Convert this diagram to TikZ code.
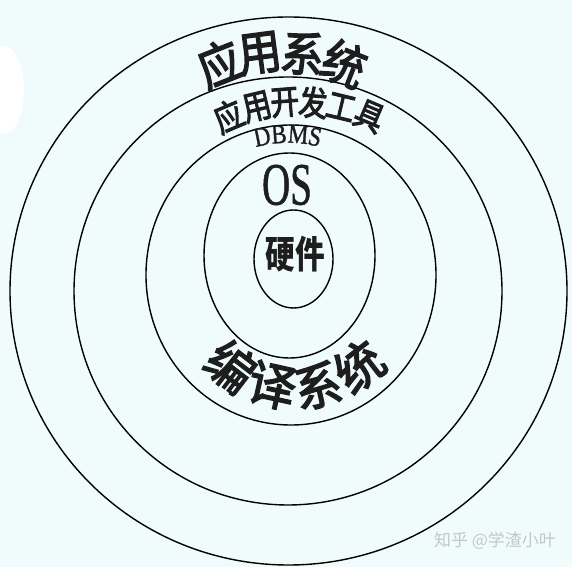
\documentclass[tikz,border=0pt]{standalone}
\usepackage{fontspec}
\newfontfamily\cjk{Noto Sans CJK SC}[FakeBold=3]
\newfontfamily\cjkplain{Noto Sans CJK SC}
\newfontfamily\tms{Liberation Serif}[FakeBold=1.2]
\usetikzlibrary{calc}
\definecolor{bgcyan}{RGB}{240,252,252}
\definecolor{inkgray}{RGB}{30,30,30}
\newcommand\cjksize[1]{\cjk\fontsize{#1}{#1}\selectfont}
\newcommand\tmssize[1]{\tms\fontsize{#1}{#1}\selectfont}

\begin{document}
\begin{tikzpicture}[x=1pt, y=1pt]
    % Define display style
    \tikzstyle{ring}=[draw=black, line width=1.4pt]
    \tikzstyle{cjkchar}=[inner sep=0pt, text=inkgray]
    \tikzstyle{serifchar}=[inner sep=0pt, text=inkgray]
    \tikzstyle{watermark}=[inner sep=0pt, text=gray!45, font=\cjkplain\fontsize{17}{17}\selectfont]

    % Background and page size
    \fill[bgcyan] (0,0) rectangle (572,567);
    \useasboundingbox (0,0) rectangle (572,567);
    \fill[white] (4,477) ellipse [x radius=20, y radius=44];

    % Define centres of the rings
    \coordinate (sys)  at (288.5,276);
    \coordinate (tool) at (288,276);
    \coordinate (dbms) at (291,292);
    \coordinate (os)   at (289.5,311.5);
    \coordinate (hw)   at (293.5,308);

    % Draw the rings
    \draw[ring] (sys)  ellipse [x radius=278.5, y radius=274];
    \draw[ring] (tool) ellipse [x radius=214, y radius=214];
    \draw[ring] (dbms) ellipse [x radius=145, y radius=150];
    \draw[ring] (os)   ellipse [x radius=85.5, y radius=102.5];
    \draw[ring] (hw)   ellipse [x radius=39.5, y radius=49];

    % Centres of the curved labels
    \coordinate (arcA) at (282,345);
    \coordinate (arcB) at (299,285);
    \coordinate (arcC) at (288,303);
    \coordinate (arcD) at (295,284);

    % Draw the curved labels letter by letter
    \foreach \a/\ch in {111.5/应, 97.5/用, 83/系, 68.5/统}
        \node[cjkchar, rotate=\a-90, xscale=0.9, font=\cjksize{48}] (sys-\a) at ($(arcA)+(\a:170)$) {\ch};

    \foreach \a/\ch in {113/应, 103.5/用, 94.5/开, 85.5/发, 76.5/工, 67/具}
        \node[cjkchar, rotate=\a-90, xscale=0.85, font=\cjksize{34}] (tool-\a) at ($(arcB)+(\a:180)$) {\ch};

    \foreach \a/\ch in {101.5/D, 94/B, 85.5/M, 78/S}
        \node[serifchar, rotate=\a-90, xscale=0.85, font=\tmssize{27}] (dbms-\a) at ($(arcC)+(\a:130)$) {\ch};

    \foreach \a/\ch in {-127.5/编, -102.5/译, -77.5/系, -52.5/统}
        \node[cjkchar, rotate=\a+90, xscale=0.95, font=\cjksize{50}] (comp-\a) at ($(arcD)+(\a:105)$) {\ch};

    % Straight labels
    \node[serifchar, xscale=0.65, font=\tmssize{60}] (oslabel) at (287,382) {OS};
    \node[cjkchar, xscale=0.78, font=\cjkplain\bfseries\fontsize{38}{38}\selectfont] (hwlabel) at (295,313) {硬件};

    % Watermark
    \node[watermark] (credit) at (495,26) {知乎 @学渣小叶};
\end{tikzpicture}
\end{document}
